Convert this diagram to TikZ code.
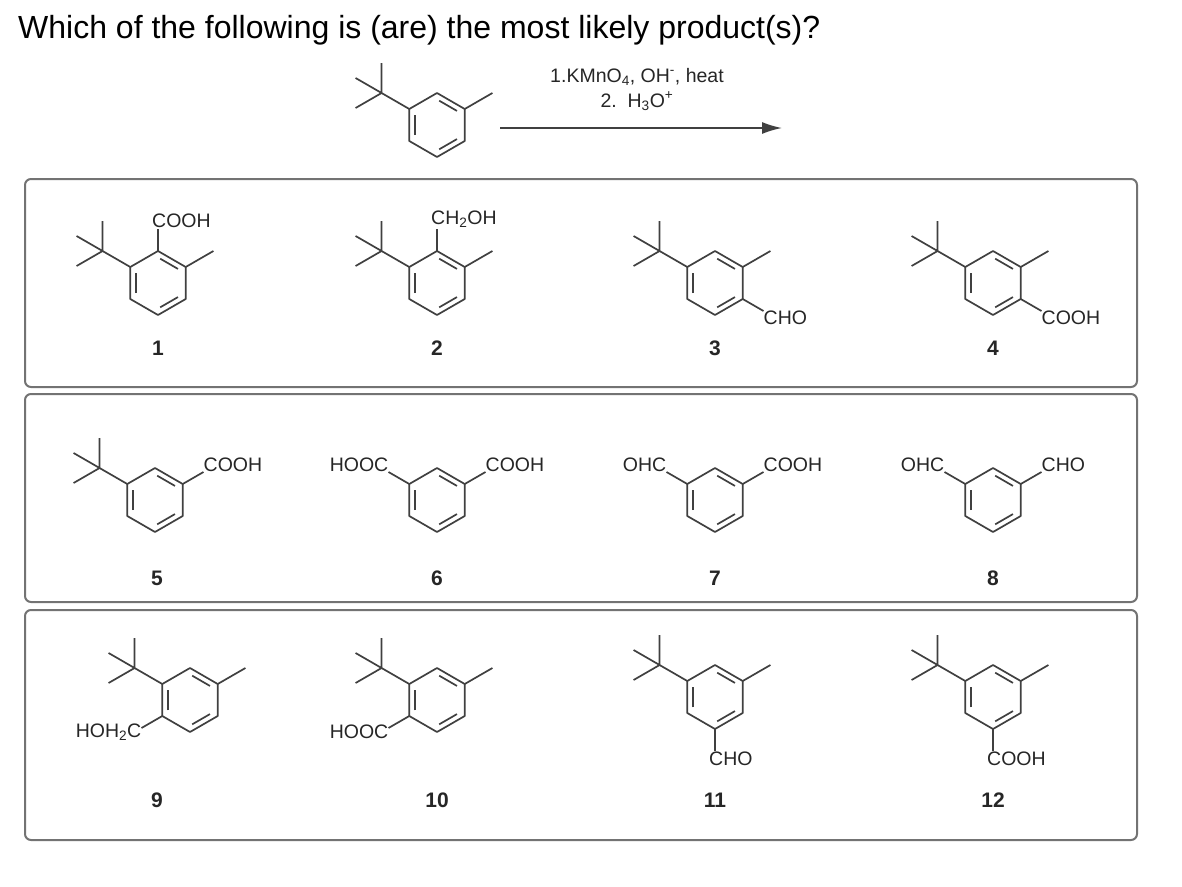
\documentclass[tikz,border=0pt]{standalone}
\usepackage{fontspec}
\setmainfont{Liberation Sans}
\usetikzlibrary{calc,arrows.meta}
\tikzset{
  bond/.style={draw=black!75,line width=1.7pt},
  grp/.style={font=\fontsize{19.5}{19.5}\selectfont,text=black!85,inner sep=1pt},
  num/.style={font=\fontsize{21}{21}\selectfont\bfseries,text=black!85},
  panel/.style={draw=black!55,line width=2pt,rounded corners=6pt},
}
\newcommand\benz[3]{% name, x, y
  \coordinate (#1) at (#2,#3);
  \foreach \i/\a in {0/-90,1/-30,2/30,3/90,4/150,5/210}{\coordinate (#1-\i) at ($(#1)+(\a:32)$);}
  \draw[bond,line join=round] (#1-0)--(#1-1)--(#1-2)--(#1-3)--(#1-4)--(#1-5)--cycle;
  \foreach \p/\q in {0/1,2/3,4/5}{\draw[bond] ($(#1)!0.8!($(#1-\p)!0.1!(#1-\q)$)$) -- ($(#1)!0.8!($(#1-\p)!0.9!(#1-\q)$)$);}
}
\newcommand\tbu[1]{% tBu on vertex 5
  \coordinate (#1-q) at ($(#1-5)+(210:32)$);
  \coordinate (#1-ta) at ($(#1-q)+(270:30)$);
  \coordinate (#1-tb) at ($(#1-q)+(210:30)$);
  \coordinate (#1-tc) at ($(#1-q)+(150:30)$);
  \draw[bond] (#1-5)--(#1-q) (#1-q)--(#1-ta) (#1-q)--(#1-tb) (#1-q)--(#1-tc);
}
\newcommand\methyl[1]{\coordinate (#1-m) at ($(#1-1)+(330:32)$); \draw[bond] (#1-1)--(#1-m);}
\begin{document}
\begin{tikzpicture}[x=1pt,y=-1pt]
\useasboundingbox (0,0) rectangle (1182,886);
\fill[white] (0,0) rectangle (1182,886);
\node[anchor=west,font=\fontsize{32}{32}\selectfont,inner sep=0] (title) at (18,30) {Which of the following is (are) the most likely product(s)?};

% starting material
\benz{s}{437}{125}\tbu{s}\methyl{s}
\coordinate (a1) at (500,128); \coordinate (a2) at (782,128);
\draw[bond,-{Latex[length=20pt,width=12pt]}] (a1) -- (a2);
\node[grp] (r1) at (637,77) {1.KMnO\textsubscript{4}, OH\textsuperscript{-}, heat};
\node[grp] (r2) at (637,101) {2.~~H\textsubscript{3}O\textsuperscript{+}};

% panels
\draw[panel] (25,179) rectangle (1137,387);
\draw[panel] (25,394) rectangle (1137,602);
\draw[panel] (25,610) rectangle (1137,840);

% row 1
\benz{m1}{158}{283}\tbu{m1}\methyl{m1}
\coordinate (m1-x) at ($(m1-0)+(270:22)$); \draw[bond] (m1-0)--(m1-x);
\node[grp,anchor=south west,xshift=-7pt] (g1) at (m1-x) {COOH};
\node[num] (n1) at (158,348) {1};

\benz{m2}{437}{283}\tbu{m2}\methyl{m2}
\coordinate (m2-x) at ($(m2-0)+(270:22)$); \draw[bond] (m2-0)--(m2-x);
\node[grp,anchor=south west,xshift=-7pt] (g2) at (m2-x) {CH\textsubscript{2}OH};
\node[num] (n2) at (437,348) {2};

\benz{m3}{715}{283}\tbu{m3}\methyl{m3}
\coordinate (m3-x) at ($(m3-2)+(30:24)$); \draw[bond] (m3-2)--(m3-x);
\node[grp,anchor=west,xshift=-1pt,yshift=-7pt] (g3) at (m3-x) {CHO};
\node[num] (n3) at (715,348) {3};

\benz{m4}{993}{283}\tbu{m4}\methyl{m4}
\coordinate (m4-x) at ($(m4-2)+(30:24)$); \draw[bond] (m4-2)--(m4-x);
\node[grp,anchor=west,xshift=-1pt,yshift=-7pt] (g4) at (m4-x) {COOH};
\node[num] (n4) at (993,348) {4};

% row 2
\benz{m5}{155}{500}\tbu{m5}
\coordinate (m5-x) at ($(m5-1)+(330:24)$); \draw[bond] (m5-1)--(m5-x);
\node[grp,anchor=west,xshift=-1pt,yshift=7pt] (g5) at (m5-x) {COOH};
\node[num] (n5) at (157,578) {5};

\benz{m6}{437}{500}
\coordinate (m6-x) at ($(m6-1)+(330:24)$); \draw[bond] (m6-1)--(m6-x);
\node[grp,anchor=west,xshift=-1pt,yshift=7pt] (g6) at (m6-x) {COOH};
\coordinate (m6-y) at ($(m6-5)+(210:24)$); \draw[bond] (m6-5)--(m6-y);
\node[grp,anchor=east,xshift=1pt,yshift=7pt] (h6) at (m6-y) {HOOC};
\node[num] (n6) at (437,578) {6};

\benz{m7}{715}{500}
\coordinate (m7-x) at ($(m7-1)+(330:24)$); \draw[bond] (m7-1)--(m7-x);
\node[grp,anchor=west,xshift=-1pt,yshift=7pt] (g7) at (m7-x) {COOH};
\coordinate (m7-y) at ($(m7-5)+(210:24)$); \draw[bond] (m7-5)--(m7-y);
\node[grp,anchor=east,xshift=1pt,yshift=7pt] (h7) at (m7-y) {OHC};
\node[num] (n7) at (715,578) {7};

\benz{m8}{993}{500}
\coordinate (m8-x) at ($(m8-1)+(330:24)$); \draw[bond] (m8-1)--(m8-x);
\node[grp,anchor=west,xshift=-1pt,yshift=7pt] (g8) at (m8-x) {CHO};
\coordinate (m8-y) at ($(m8-5)+(210:24)$); \draw[bond] (m8-5)--(m8-y);
\node[grp,anchor=east,xshift=1pt,yshift=7pt] (h8) at (m8-y) {OHC};
\node[num] (n8) at (993,578) {8};

% row 3
\benz{m9}{190}{700}\tbu{m9}\methyl{m9}
\coordinate (m9-x) at ($(m9-4)+(150:24)$); \draw[bond] (m9-4)--(m9-x);
\node[grp,anchor=east,xshift=1pt,yshift=-4pt] (g9) at (m9-x) {HOH\textsubscript{2}C};
\node[num] (n9) at (157,800) {9};

\benz{m10}{437}{700}\tbu{m10}\methyl{m10}
\coordinate (m10-x) at ($(m10-4)+(150:24)$); \draw[bond] (m10-4)--(m10-x);
\node[grp,anchor=east,xshift=1pt,yshift=-4pt] (g10) at (m10-x) {HOOC};
\node[num] (n10) at (437,800) {10};

\benz{m11}{715}{697}\tbu{m11}\methyl{m11}
\coordinate (m11-x) at ($(m11-3)+(90:22)$); \draw[bond] (m11-3)--(m11-x);
\node[grp,anchor=north west,xshift=-7pt] (g11) at (m11-x) {CHO};
\node[num] (n11) at (715,800) {11};

\benz{m12}{993}{697}\tbu{m12}\methyl{m12}
\coordinate (m12-x) at ($(m12-3)+(90:22)$); \draw[bond] (m12-3)--(m12-x);
\node[grp,anchor=north west,xshift=-7pt] (g12) at (m12-x) {COOH};
\node[num] (n12) at (993,800) {12};
\end{tikzpicture}
\end{document}
